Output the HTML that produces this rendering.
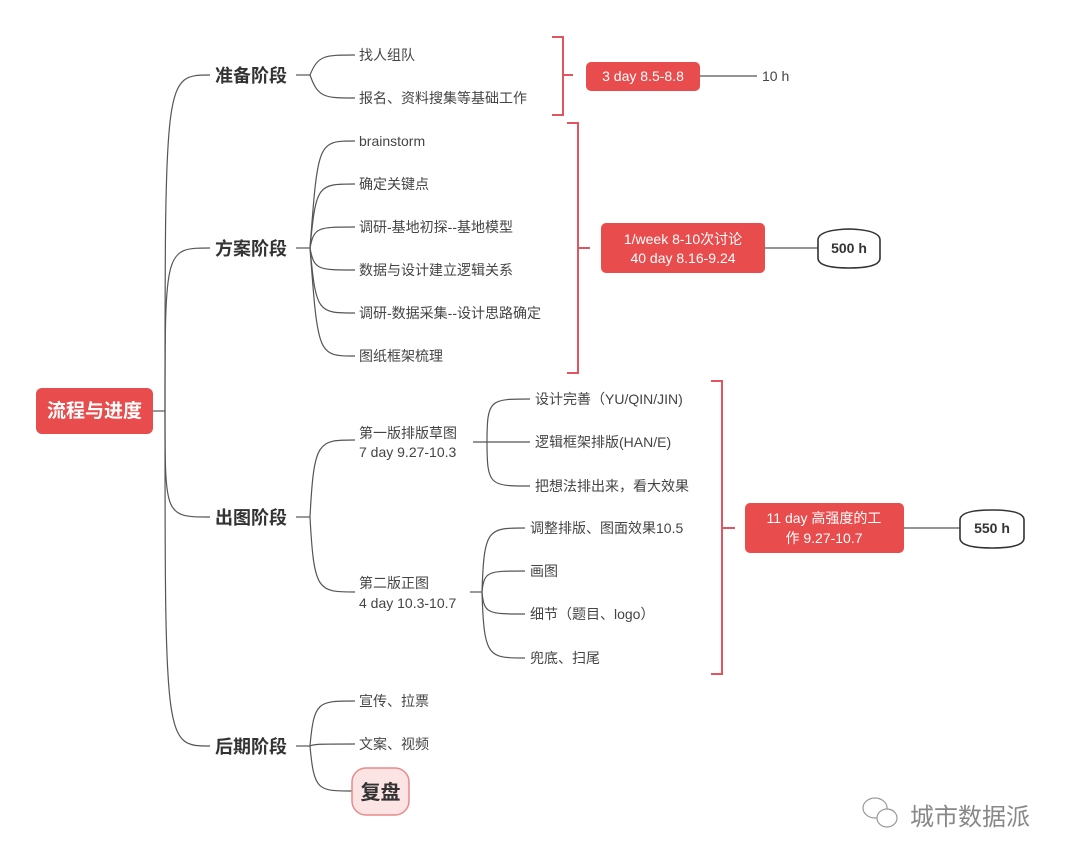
<!DOCTYPE html>
<html><head><meta charset="utf-8"><style>
html,body{margin:0;padding:0;background:#fff;}
svg{display:block;}
text{font-family:"Liberation Sans","Noto Sans CJK SC",sans-serif;}
.t{font-size:14px;fill:#444;}
.s{font-size:18px;font-weight:bold;fill:#333;}
.l{fill:none;stroke:#555;stroke-width:1.2;}
.b{fill:none;stroke:#e05560;stroke-width:2;}
.w{font-size:14px;fill:#fff;}
</style></head><body>
<svg width="1080" height="864" viewBox="0 0 1080 864" xmlns="http://www.w3.org/2000/svg">
<rect width="1080" height="864" fill="#fff"/>
<!-- root -->
<rect x="36" y="388" width="117" height="46" rx="6" fill="#e84c4c"/>
<text x="94.5" y="417" text-anchor="middle" font-size="19" font-weight="bold" fill="#fff">流程与进度</text>
<path class="l" d="M153 411 H165"/>
<path class="l" d="M165 411 C165 75,165 75,210 75"/>
<path class="l" d="M165 411 C165 248,165 248,210 248"/>
<path class="l" d="M165 411 C165 517,165 517,210 517"/>
<path class="l" d="M165 411 C165 746,165 746,210 746"/>
<text class="s" x="215" y="82">准备阶段</text>
<text class="s" x="215" y="255">方案阶段</text>
<text class="s" x="215" y="524">出图阶段</text>
<text class="s" x="215" y="753">后期阶段</text>
<!-- 准备 -->
<path class="l" d="M296 75 H310"/>
<path class="l" d="M310 75 C318 55,325 55,355 55"/>
<path class="l" d="M310 75 C318 98,325 98,355 98"/>
<text class="t" x="359" y="60">找人组队</text>
<text class="t" x="359" y="103">报名、资料搜集等基础工作</text>
<!-- 方案 -->
<path class="l" d="M296 248 H310"/>
<g class="l">
<path d="M310 248 C318 141,318 141,355 141"/>
<path d="M310 248 C316 184,318 184,355 184"/>
<path d="M310 248 C314 227,318 227,355 227"/>
<path d="M310 248 C314 270,318 270,355 270"/>
<path d="M310 248 C316 313,318 313,355 313"/>
<path d="M310 248 C318 356,318 356,355 356"/>
</g>
<text class="t" x="359" y="146">brainstorm</text>
<text class="t" x="359" y="189">确定关键点</text>
<text class="t" x="359" y="232">调研-基地初探--基地模型</text>
<text class="t" x="359" y="275">数据与设计建立逻辑关系</text>
<text class="t" x="359" y="318">调研-数据采集--设计思路确定</text>
<text class="t" x="359" y="361">图纸框架梳理</text>
<!-- 出图 -->
<path class="l" d="M296 517 H310"/>
<path class="l" d="M310 517 C314 440,318 440,355 440"/>
<path class="l" d="M310 517 C314 592,318 592,355 592"/>
<text class="t" x="359" y="438">第一版排版草图</text>
<text class="t" x="359" y="457">7 day 9.27-10.3</text>
<text class="t" x="359" y="588">第二版正图</text>
<text class="t" x="359" y="608">4 day 10.3-10.7</text>
<path class="l" d="M473 442 H530"/>
<path class="l" d="M487 442 C487 399,490 399,530 399"/>
<path class="l" d="M487 442 C487 486,490 486,530 486"/>
<text class="t" x="535" y="404">设计完善（YU/QIN/JIN)</text>
<text class="t" x="535" y="447">逻辑框架排版(HAN/E)</text>
<text class="t" x="535" y="491">把想法排出来，看大效果</text>
<path class="l" d="M470 592 H482"/>
<g class="l">
<path d="M482 592 C484 528,488 528,525 528"/>
<path d="M482 592 C484 571,488 571,525 571"/>
<path d="M482 592 C484 614,488 614,525 614"/>
<path d="M482 592 C484 658,488 658,525 658"/>
</g>
<text class="t" x="530" y="533">调整排版、图面效果10.5</text>
<text class="t" x="530" y="576">画图</text>
<text class="t" x="530" y="619">细节（题目、logo）</text>
<text class="t" x="530" y="663">兜底、扫尾</text>
<!-- 后期 -->
<path class="l" d="M296 746 H310"/>
<path class="l" d="M310 746 C314 701,318 701,355 701"/>
<path class="l" d="M310 746 C314 744,318 744,355 744"/>
<path class="l" d="M310 746 C314 791,318 791,352 791"/>
<text class="t" x="359" y="706">宣传、拉票</text>
<text class="t" x="359" y="749">文案、视频</text>
<rect x="352" y="768" width="57" height="47" rx="14" fill="#fde4e4" stroke="#e88a8a" stroke-width="1.5"/>
<text x="380.5" y="799" text-anchor="middle" font-size="20" font-weight="bold" fill="#333">复盘</text>
<!-- brackets -->
<path class="b" d="M552 37 H563 V115 H552 M563 75 H573"/>
<path class="b" d="M567 123 H578 V373 H567 M578 248 H590"/>
<path class="b" d="M711 381 H722 V674 H711 M722 528 H735"/>
<!-- summaries -->
<rect x="586" y="62" width="114" height="29" rx="5" fill="#e84c4c"/>
<text class="w" x="643" y="81" text-anchor="middle">3 day 8.5-8.8</text>
<path class="l" d="M700 76 H757"/>
<text class="t" x="762" y="81">10 h</text>
<rect x="601" y="223" width="164" height="50" rx="5" fill="#e84c4c"/>
<text class="w" x="683" y="244" text-anchor="middle">1/week 8-10次讨论</text>
<text class="w" x="683" y="263" text-anchor="middle">40 day 8.16-9.24</text>
<path class="l" d="M765 248 H818"/>
<path d="M818 240 Q818 230,849 229 Q880 230,880 240 V258 Q880 268,849 268 Q818 268,818 258 Z" fill="#fff" stroke="#333" stroke-width="1.6"/>
<text x="849" y="253" text-anchor="middle" font-size="14" font-weight="bold" fill="#333">500 h</text>
<rect x="745" y="503" width="159" height="50" rx="5" fill="#e84c4c"/>
<text class="w" x="824" y="523" text-anchor="middle">11 day 高强度的工</text>
<text class="w" x="824" y="543" text-anchor="middle">作 9.27-10.7</text>
<path class="l" d="M904 528 H960"/>
<path d="M960 520 Q960 510,992 510 Q1024 510,1024 520 V538 Q1024 548,992 548 Q960 548,960 538 Z" fill="#fff" stroke="#333" stroke-width="1.6"/>
<text x="992" y="533" text-anchor="middle" font-size="14" font-weight="bold" fill="#333">550 h</text>
<!-- watermark -->
<g fill="none" stroke="#999" stroke-width="1.2">
<ellipse cx="875" cy="808" rx="12" ry="10"/>
<ellipse cx="887" cy="818" rx="10" ry="9" fill="#fff"/>
</g>
<text x="910" y="825" font-size="24" fill="#888">城市数据派</text>
</svg>
</body></html>
